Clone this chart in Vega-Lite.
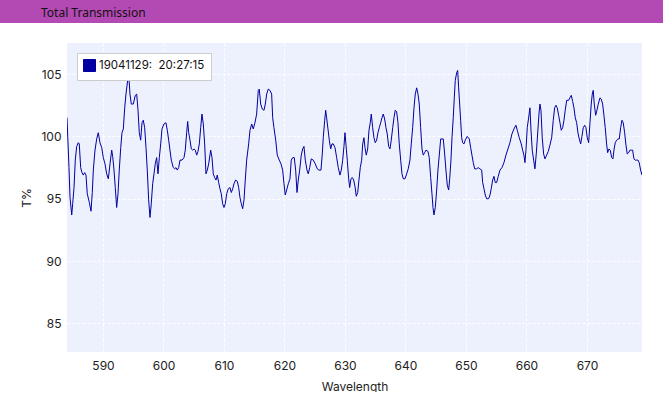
{
  "$schema": "https://vega.github.io/schema/vega-lite/v6.json",
  "padding": 0,
  "background": "#ffffff",
  "spacing": 20,
  "resolve": {"legend": {"color": "independent"}, "scale": {"color": "independent"}},
  "config": {"view": {"stroke": null}, "font": "Inter"},
  "vconcat": [
    {
      "width": 663,
      "height": 23,
      "data": {"values": [{"window": "Total Transmission"}]},
      "mark": {"type": "rect", "color": "#b349b3"},
      "title": {"text": "Total Transmission", "anchor": "start", "offset": -29, "dx": 41, "baseline": "alphabetic", "fontSize": 12, "fontWeight": "normal", "color": "#111111", "font": "Noto Sans"}
    },
    {
      "spacing": 0,
      "resolve": {"legend": {"color": "independent"}, "scale": {"color": "independent"}},
      "hconcat": [
        {
          "width": 20,
          "height": 309,
          "data": {"values": []},
          "mark": {"type": "rect", "opacity": 0}
        },
        {
          "width": 575,
          "height": 309,
          "view": {"fill": "#edf0fd", "stroke": null},
          "data": {"values": [
            {"w":584.05,"t":101.5},{"w":584.38,"t":97.5},{"w":584.55,"t":95.1},{"w":584.83,"t":93.7},{"w":584.99,"t":94.6},{"w":585.21,"t":95.9},{"w":585.42,"t":98.1},{"w":585.65,"t":99.2},{"w":585.92,"t":99.5},{"w":586.08,"t":99.4},{"w":586.31,"t":97.5},{"w":586.53,"t":97.1},{"w":586.74,"t":96.9},{"w":586.97,"t":97.1},{"w":587.19,"t":96.9},{"w":587.40,"t":95.4},{"w":587.74,"t":94.7},{"w":588.02,"t":94.0},{"w":588.23,"t":95.5},{"w":588.40,"t":97.3},{"w":588.68,"t":98.9},{"w":588.96,"t":99.8},{"w":589.22,"t":100.3},{"w":589.50,"t":99.5},{"w":589.79,"t":99.1},{"w":590.05,"t":98.3},{"w":590.33,"t":97.8},{"w":590.61,"t":97.0},{"w":590.88,"t":96.6},{"w":591.16,"t":97.8},{"w":591.44,"t":98.9},{"w":591.60,"t":98.4},{"w":591.82,"t":97.3},{"w":592.03,"t":95.9},{"w":592.26,"t":94.3},{"w":592.48,"t":95.4},{"w":592.69,"t":97.3},{"w":592.93,"t":99.1},{"w":593.14,"t":100.3},{"w":593.36,"t":100.6},{"w":593.59,"t":102.3},{"w":593.80,"t":103.4},{"w":594.08,"t":104.5},{"w":594.30,"t":104.6},{"w":594.46,"t":103.4},{"w":594.68,"t":102.6},{"w":595.01,"t":102.6},{"w":595.34,"t":103.3},{"w":595.57,"t":103.4},{"w":595.79,"t":102.1},{"w":596.00,"t":100.3},{"w":596.23,"t":99.7},{"w":596.45,"t":101.1},{"w":596.66,"t":101.3},{"w":596.89,"t":100.7},{"w":597.11,"t":99.1},{"w":597.32,"t":97.3},{"w":597.55,"t":94.9},{"w":597.77,"t":93.5},{"w":597.98,"t":94.6},{"w":598.21,"t":96.2},{"w":598.43,"t":97.0},{"w":598.64,"t":97.8},{"w":598.87,"t":98.3},{"w":599.09,"t":97.0},{"w":599.31,"t":98.3},{"w":599.54,"t":99.4},{"w":599.75,"t":100.6},{"w":600.08,"t":101.0},{"w":600.41,"t":101.1},{"w":600.63,"t":100.5},{"w":600.86,"t":99.7},{"w":601.07,"t":98.9},{"w":601.29,"t":98.1},{"w":601.62,"t":97.5},{"w":601.85,"t":97.4},{"w":602.07,"t":97.5},{"w":602.28,"t":97.3},{"w":602.51,"t":97.5},{"w":602.73,"t":98.1},{"w":603.06,"t":98.1},{"w":603.39,"t":98.3},{"w":603.60,"t":98.9},{"w":603.83,"t":100.3},{"w":604.00,"t":101.2},{"w":604.17,"t":100.3},{"w":604.38,"t":99.7},{"w":604.60,"t":99.0},{"w":604.83,"t":98.9},{"w":605.04,"t":99.0},{"w":605.26,"t":98.9},{"w":605.49,"t":98.5},{"w":605.70,"t":98.8},{"w":605.92,"t":99.4},{"w":606.15,"t":100.7},{"w":606.36,"t":101.8},{"w":606.58,"t":101.0},{"w":606.81,"t":99.4},{"w":607.02,"t":97.0},{"w":607.24,"t":97.3},{"w":607.47,"t":97.8},{"w":607.80,"t":98.9},{"w":608.02,"t":98.3},{"w":608.23,"t":97.0},{"w":608.46,"t":96.7},{"w":608.68,"t":96.5},{"w":608.89,"t":96.9},{"w":609.12,"t":96.3},{"w":609.34,"t":95.8},{"w":609.55,"t":95.4},{"w":609.78,"t":94.6},{"w":610.00,"t":94.3},{"w":610.21,"t":94.6},{"w":610.45,"t":95.4},{"w":610.71,"t":95.8},{"w":610.99,"t":95.9},{"w":611.21,"t":95.5},{"w":611.44,"t":95.8},{"w":611.65,"t":96.2},{"w":611.93,"t":96.5},{"w":612.20,"t":96.4},{"w":612.43,"t":95.9},{"w":612.64,"t":95.1},{"w":612.86,"t":94.6},{"w":613.09,"t":94.2},{"w":613.31,"t":94.9},{"w":613.52,"t":96.5},{"w":613.75,"t":98.1},{"w":614.08,"t":99.4},{"w":614.30,"t":100.5},{"w":614.58,"t":101.0},{"w":614.84,"t":100.6},{"w":615.12,"t":101.1},{"w":615.40,"t":101.8},{"w":615.67,"t":103.7},{"w":615.83,"t":103.8},{"w":616.07,"t":102.6},{"w":616.33,"t":102.2},{"w":616.61,"t":102.1},{"w":616.83,"t":102.6},{"w":617.06,"t":103.4},{"w":617.32,"t":103.8},{"w":617.60,"t":103.7},{"w":617.88,"t":103.4},{"w":618.05,"t":101.5},{"w":618.26,"t":100.7},{"w":618.55,"t":99.7},{"w":618.81,"t":98.5},{"w":619.14,"t":98.1},{"w":619.42,"t":97.8},{"w":619.70,"t":97.3},{"w":619.92,"t":96.2},{"w":620.13,"t":95.3},{"w":620.36,"t":95.7},{"w":620.63,"t":96.2},{"w":620.91,"t":96.6},{"w":621.12,"t":98.1},{"w":621.36,"t":98.3},{"w":621.62,"t":98.3},{"w":621.85,"t":97.3},{"w":622.07,"t":95.5},{"w":622.28,"t":96.5},{"w":622.51,"t":97.3},{"w":622.78,"t":98.5},{"w":623.01,"t":99.0},{"w":623.22,"t":99.2},{"w":623.44,"t":98.1},{"w":623.72,"t":97.3},{"w":623.93,"t":97.0},{"w":624.17,"t":97.5},{"w":624.43,"t":98.2},{"w":624.76,"t":98.1},{"w":625.09,"t":97.8},{"w":625.42,"t":97.4},{"w":625.70,"t":97.3},{"w":626.03,"t":97.3},{"w":626.25,"t":98.6},{"w":626.41,"t":99.9},{"w":626.65,"t":101.3},{"w":626.81,"t":102.1},{"w":626.97,"t":101.5},{"w":627.19,"t":100.6},{"w":627.41,"t":99.7},{"w":627.64,"t":99.0},{"w":627.85,"t":99.4},{"w":628.07,"t":99.4},{"w":628.35,"t":99.1},{"w":628.63,"t":98.3},{"w":628.89,"t":97.5},{"w":629.17,"t":96.9},{"w":629.39,"t":97.3},{"w":629.62,"t":98.1},{"w":629.83,"t":99.2},{"w":630.00,"t":100.3},{"w":630.17,"t":99.3},{"w":630.38,"t":98.1},{"w":630.61,"t":96.6},{"w":630.78,"t":95.9},{"w":630.99,"t":96.6},{"w":631.21,"t":96.7},{"w":631.44,"t":96.5},{"w":631.65,"t":96.0},{"w":631.87,"t":95.2},{"w":632.10,"t":95.5},{"w":632.31,"t":96.5},{"w":632.53,"t":97.5},{"w":632.76,"t":98.1},{"w":632.93,"t":99.4},{"w":633.14,"t":99.9},{"w":633.31,"t":99.1},{"w":633.52,"t":98.5},{"w":633.75,"t":99.0},{"w":633.97,"t":100.5},{"w":634.18,"t":101.1},{"w":634.35,"t":101.8},{"w":634.58,"t":100.7},{"w":634.79,"t":99.9},{"w":635.01,"t":99.5},{"w":635.24,"t":99.7},{"w":635.45,"t":100.3},{"w":635.67,"t":100.7},{"w":635.90,"t":101.1},{"w":636.12,"t":101.5},{"w":636.33,"t":101.8},{"w":636.56,"t":101.4},{"w":636.78,"t":100.7},{"w":636.99,"t":100.2},{"w":637.22,"t":99.2},{"w":637.44,"t":99.0},{"w":637.65,"t":99.7},{"w":637.89,"t":100.7},{"w":638.10,"t":101.5},{"w":638.31,"t":102.1},{"w":638.54,"t":102.0},{"w":638.76,"t":101.1},{"w":638.97,"t":99.4},{"w":639.21,"t":98.1},{"w":639.42,"t":97.0},{"w":639.64,"t":96.6},{"w":639.92,"t":96.6},{"w":640.20,"t":97.0},{"w":640.46,"t":97.4},{"w":640.74,"t":98.1},{"w":640.96,"t":99.4},{"w":641.19,"t":100.7},{"w":641.41,"t":102.3},{"w":641.62,"t":103.4},{"w":641.85,"t":103.9},{"w":642.07,"t":103.4},{"w":642.28,"t":102.6},{"w":642.51,"t":100.7},{"w":642.73,"t":99.0},{"w":642.94,"t":98.5},{"w":643.17,"t":98.7},{"w":643.39,"t":98.9},{"w":643.72,"t":98.8},{"w":643.93,"t":98.3},{"w":644.17,"t":96.7},{"w":644.38,"t":95.4},{"w":644.55,"t":94.3},{"w":644.71,"t":93.7},{"w":644.93,"t":94.3},{"w":645.16,"t":95.7},{"w":645.37,"t":97.3},{"w":645.59,"t":98.5},{"w":645.82,"t":99.8},{"w":646.25,"t":99.8},{"w":646.48,"t":98.6},{"w":646.69,"t":97.3},{"w":646.91,"t":96.1},{"w":647.14,"t":95.7},{"w":647.31,"t":96.6},{"w":647.52,"t":98.1},{"w":647.69,"t":99.9},{"w":647.90,"t":101.5},{"w":648.07,"t":103.1},{"w":648.23,"t":104.5},{"w":648.46,"t":105.1},{"w":648.63,"t":105.3},{"w":648.79,"t":103.9},{"w":648.96,"t":102.6},{"w":649.12,"t":101.3},{"w":649.29,"t":99.9},{"w":649.45,"t":99.5},{"w":649.67,"t":99.4},{"w":649.88,"t":99.7},{"w":650.21,"t":100.0},{"w":650.55,"t":99.8},{"w":650.78,"t":99.1},{"w":650.99,"t":98.5},{"w":651.21,"t":97.9},{"w":651.44,"t":97.4},{"w":651.77,"t":97.4},{"w":652.03,"t":97.5},{"w":652.31,"t":97.4},{"w":652.60,"t":97.3},{"w":652.76,"t":96.3},{"w":652.98,"t":95.8},{"w":653.19,"t":95.3},{"w":653.42,"t":95.0},{"w":653.75,"t":95.0},{"w":653.97,"t":95.3},{"w":654.18,"t":95.8},{"w":654.41,"t":96.5},{"w":654.63,"t":96.8},{"w":654.84,"t":96.3},{"w":655.07,"t":96.3},{"w":655.34,"t":96.8},{"w":655.62,"t":97.3},{"w":655.95,"t":97.5},{"w":656.28,"t":97.9},{"w":656.61,"t":98.5},{"w":656.94,"t":99.0},{"w":657.27,"t":99.5},{"w":657.60,"t":100.2},{"w":657.93,"t":100.6},{"w":658.26,"t":100.9},{"w":658.48,"t":100.5},{"w":658.81,"t":99.9},{"w":659.14,"t":99.4},{"w":659.37,"t":98.9},{"w":659.58,"t":98.5},{"w":659.75,"t":97.9},{"w":659.92,"t":98.9},{"w":660.13,"t":100.7},{"w":660.36,"t":101.5},{"w":660.58,"t":102.3},{"w":660.75,"t":100.5},{"w":660.96,"t":98.9},{"w":661.19,"t":98.1},{"w":661.40,"t":97.4},{"w":661.62,"t":98.6},{"w":661.85,"t":100.2},{"w":662.07,"t":101.8},{"w":662.23,"t":102.6},{"w":662.40,"t":102.1},{"w":662.61,"t":99.9},{"w":662.84,"t":98.6},{"w":663.06,"t":98.2},{"w":663.34,"t":98.5},{"w":663.61,"t":98.8},{"w":663.88,"t":99.3},{"w":664.17,"t":99.9},{"w":664.43,"t":101.3},{"w":664.66,"t":102.3},{"w":664.88,"t":102.5},{"w":665.09,"t":102.3},{"w":665.32,"t":101.7},{"w":665.54,"t":101.1},{"w":665.75,"t":100.5},{"w":665.98,"t":100.7},{"w":666.20,"t":101.3},{"w":666.41,"t":102.1},{"w":666.65,"t":102.9},{"w":666.98,"t":102.9},{"w":667.19,"t":103.1},{"w":667.41,"t":103.3},{"w":667.64,"t":102.8},{"w":667.85,"t":102.3},{"w":668.07,"t":101.5},{"w":668.30,"t":101.1},{"w":668.51,"t":100.3},{"w":668.73,"t":99.8},{"w":668.96,"t":99.4},{"w":669.17,"t":100.0},{"w":669.39,"t":100.7},{"w":669.62,"t":100.9},{"w":669.83,"t":100.7},{"w":670.05,"t":99.9},{"w":670.28,"t":99.5},{"w":670.50,"t":101.1},{"w":670.71,"t":102.6},{"w":670.88,"t":103.4},{"w":671.04,"t":103.7},{"w":671.21,"t":102.6},{"w":671.44,"t":101.7},{"w":671.65,"t":102.1},{"w":671.87,"t":102.6},{"w":672.15,"t":103.1},{"w":672.36,"t":103.0},{"w":672.59,"t":102.6},{"w":672.81,"t":101.7},{"w":673.02,"t":100.7},{"w":673.25,"t":99.4},{"w":673.42,"t":98.7},{"w":673.64,"t":99.0},{"w":673.85,"t":98.9},{"w":674.09,"t":98.3},{"w":674.30,"t":98.2},{"w":674.46,"t":98.9},{"w":674.68,"t":99.5},{"w":674.91,"t":99.7},{"w":675.12,"t":99.8},{"w":675.34,"t":99.8},{"w":675.57,"t":100.7},{"w":675.79,"t":101.3},{"w":676.00,"t":101.1},{"w":676.23,"t":100.3},{"w":676.45,"t":99.3},{"w":676.66,"t":98.6},{"w":676.89,"t":98.7},{"w":677.11,"t":98.9},{"w":677.32,"t":98.9},{"w":677.55,"t":98.9},{"w":677.77,"t":98.2},{"w":677.98,"t":98.1},{"w":678.21,"t":98.1},{"w":678.43,"t":98.1},{"w":678.64,"t":97.9},{"w":678.87,"t":97.3},{"w":679.09,"t":96.9}
          ]},
          "mark": {"type": "line", "strokeWidth": 1, "clip": true},
          "encoding": {
            "x": {
              "field": "w", "type": "quantitative",
              "scale": {"domain": [584.05, 679.1], "nice": false, "zero": false},
              "axis": {"title": "Wavelength", "values": [590, 600, 610, 620, 630, 640, 650, 660, 670], "grid": true, "gridColor": "#ffffff", "gridDash": [3, 2], "gridWidth": 1, "ticks": false, "tickSize": 0, "domain": false, "labelPadding": 8, "labelFontSize": 12, "labelColor": "#222222", "titleFontSize": 12, "titleFontWeight": "normal", "titleColor": "#222222", "titlePadding": 10}
            },
            "y": {
              "field": "t", "type": "quantitative",
              "scale": {"domain": [82.7, 107.5], "nice": false, "zero": false},
              "axis": {"title": "T%", "values": [85, 90, 95, 100, 105], "grid": true, "gridColor": "#ffffff", "gridDash": [3, 2], "gridWidth": 1, "ticks": false, "tickSize": 0, "domain": false, "labelPadding": 6, "labelFontSize": 12, "labelColor": "#222222", "titleFontSize": 12, "titleFontWeight": "normal", "titleColor": "#222222", "titlePadding": 7}
            },
            "color": {
              "datum": "19041129:\u00a0 20:27:15", "type": "nominal",
              "scale": {"range": ["#0000a0"]},
              "legend": {"title": null, "orient": "top-left", "offset": 10, "fillColor": "#ffffff", "strokeColor": "#cccccc", "padding": 6, "symbolType": "square", "symbolSize": 144, "symbolFillColor": "#0000a0", "symbolStrokeColor": "#0000a0", "symbolStrokeWidth": 1, "labelFontSize": 11.5, "labelColor": "#111111", "labelOffset": 3}
            }
          }
        }
      ]
    }
  ]
}
